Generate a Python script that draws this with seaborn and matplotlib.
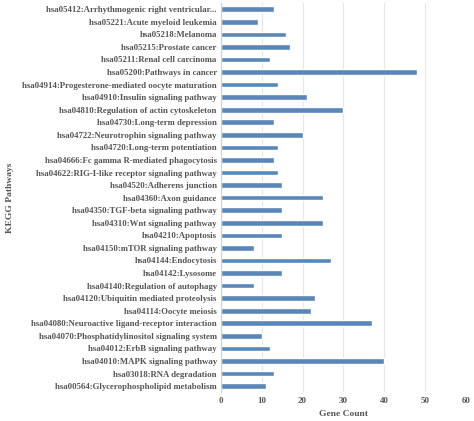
import matplotlib
matplotlib.use("Agg")
import matplotlib.pyplot as plt
import pandas as pd
import seaborn as sns

pathways = [
    "hsa05412:Arrhythmogenic right ventricular...",
    "hsa05221:Acute myeloid leukemia",
    "hsa05218:Melanoma",
    "hsa05215:Prostate cancer",
    "hsa05211:Renal cell carcinoma",
    "hsa05200:Pathways in cancer",
    "hsa04914:Progesterone-mediated oocyte maturation",
    "hsa04910:Insulin signaling pathway",
    "hsa04810:Regulation of actin cytoskeleton",
    "hsa04730:Long-term depression",
    "hsa04722:Neurotrophin signaling pathway",
    "hsa04720:Long-term potentiation",
    "hsa04666:Fc gamma R-mediated phagocytosis",
    "hsa04622:RIG-I-like receptor signaling pathway",
    "hsa04520:Adherens junction",
    "hsa04360:Axon guidance",
    "hsa04350:TGF-beta signaling pathway",
    "hsa04310:Wnt signaling pathway",
    "hsa04210:Apoptosis",
    "hsa04150:mTOR signaling pathway",
    "hsa04144:Endocytosis",
    "hsa04142:Lysosome",
    "hsa04140:Regulation of autophagy",
    "hsa04120:Ubiquitin mediated proteolysis",
    "hsa04114:Oocyte meiosis",
    "hsa04080:Neuroactive ligand-receptor interaction",
    "hsa04070:Phosphatidylinositol signaling system",
    "hsa04012:ErbB signaling pathway",
    "hsa04010:MAPK signaling pathway",
    "hsa03018:RNA degradation",
    "hsa00564:Glycerophospholipid metabolism",
]
gene_counts = [13, 9, 16, 17, 12, 48, 14, 21, 30, 13, 20, 14, 13, 14, 15, 25,
               15, 25, 15, 8, 27, 15, 8, 23, 22, 37, 10, 12, 40, 13, 11]

df = pd.DataFrame({"pathway": pathways, "count": gene_counts})

sns.set_style("white")
plt.rcParams["font.family"] = ["Liberation Serif", "DejaVu Serif"]

fig = plt.figure(figsize=(4.74, 4.21), dpi=100)
ax = fig.add_axes([0.466, 0.068, 0.517, 0.925])
sns.barplot(data=df, y="pathway", x="count", color="#4a86c8", width=0.45,
            orient="h", ax=ax, zorder=2)

ax.set_xlim(0, 60)
ax.set_xticks(range(0, 61, 10))
ax.grid(axis="x", color="#e6e6e6", linewidth=0.8, zorder=0)
for s in ["top", "right", "bottom"]:
    ax.spines[s].set_visible(False)
ax.spines["left"].set_color("#d0d0d0")
ax.tick_params(axis="both", length=0, colors="#555555", pad=3)
for lbl in ax.get_yticklabels():
    lbl.set_fontsize(6.3)
    lbl.set_fontweight("bold")
for lbl in ax.get_xticklabels():
    lbl.set_fontsize(6.5)
    lbl.set_fontweight("bold")
ax.set_xlabel("Gene Count", fontsize=6.8, fontweight="bold", color="#555555", labelpad=4)
ax.set_ylabel("KEGG Pathways", fontsize=6.8, fontweight="bold", color="#555555")
ax.yaxis.set_label_coords(-0.845, 0.5)

fig.savefig("out.png", dpi=100)
